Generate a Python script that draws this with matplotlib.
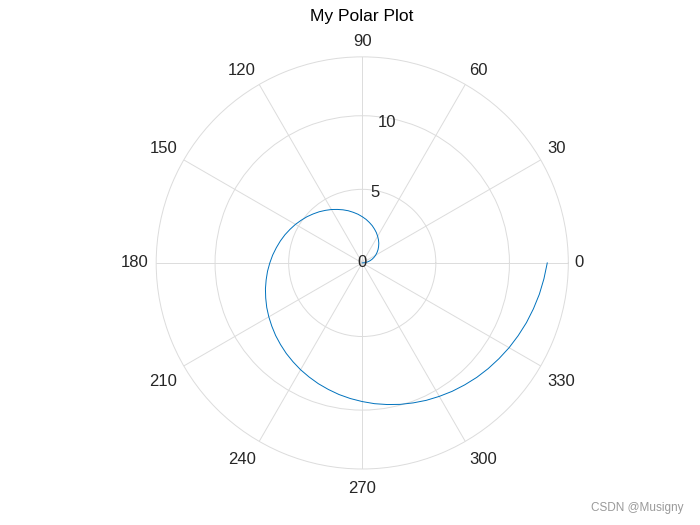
import numpy as np
import matplotlib
matplotlib.use("Agg")
import matplotlib.pyplot as plt

plt.rcParams["font.family"] = ["Liberation Sans", "DejaVu Sans"]

# spiral: angle (deg) and radius
theta_deg = [0, 5, 10, 15, 20, 25, 30, 35, 40, 45, 50, 55, 60, 65, 70, 75, 80, 85, 90,
             95, 100, 105, 110, 115, 120, 125, 130, 135, 140, 145, 150, 155, 160, 165, 170, 175, 180,
             185, 190, 195, 200, 205, 210, 215, 220, 225, 230, 235, 240, 245, 250, 255, 260, 265, 270,
             275, 280, 285, 290, 295, 300, 305, 310, 315, 320, 325, 330, 335, 340, 345, 350, 355, 360]
radius = [0.00, 0.17, 0.35, 0.52, 0.70, 0.87, 1.05, 1.22, 1.40, 1.57, 1.75, 1.92, 2.09, 2.27, 2.44, 2.62, 2.79, 2.97, 3.14,
          3.32, 3.49, 3.67, 3.84, 4.01, 4.19, 4.36, 4.54, 4.71, 4.89, 5.06, 5.24, 5.41, 5.59, 5.76, 5.93, 6.11, 6.28,
          6.46, 6.63, 6.81, 6.98, 7.16, 7.33, 7.50, 7.68, 7.85, 8.03, 8.20, 8.38, 8.55, 8.73, 8.90, 9.08, 9.25, 9.42,
          9.60, 9.77, 9.95, 10.12, 10.30, 10.47, 10.65, 10.82, 11.00, 11.17, 11.34, 11.52, 11.69, 11.87, 12.04, 12.22, 12.39, 12.57]

angle_ticks = [0, 30, 60, 90, 120, 150, 180, 210, 240, 270, 300, 330]
r_ticks = [0, 5, 10]
r_max = 14

LINE = "#0072BD"
GRID = "#dcdcdc"
TXT = "#262626"

fig = plt.figure(figsize=(7, 5.25), dpi=100)
ax = fig.add_axes([0.223, 0.1067, 0.589, 0.785], projection="polar")

ax.plot(np.deg2rad(theta_deg), radius, color=LINE, linewidth=0.7)

ax.set_ylim(0, r_max)
ax.set_yticks(r_ticks)
ax.set_yticklabels([])
for r in r_ticks:
    ax.text(np.deg2rad(80), r * 0.97, str(r), ha="center", va="center",
            fontsize=12, color=TXT)

# angle labels placed like matlab: aligned away from the circle
ax.set_xticks(np.deg2rad(angle_ticks))
ax.set_xticklabels([])
for a in angle_ticks:
    c, s = np.cos(np.deg2rad(a)), np.sin(np.deg2rad(a))
    ha = "left" if c > 0.1 else ("right" if c < -0.1 else "center")
    va = "bottom" if s > 0.1 else ("top" if s < -0.1 else "center")
    dx = -1 if c > 0.9 else 0
    dy = -3 if s < -0.1 else 0
    ax.annotate(str(a), xy=(np.deg2rad(a), r_max + 0.5), xytext=(dx, dy),
                textcoords="offset points", ha=ha, va=va,
                fontsize=12, color=TXT, annotation_clip=False)

ax.grid(True, color=GRID, linewidth=0.7)
ax.spines["polar"].set_edgecolor(GRID)
ax.spines["polar"].set_linewidth(0.7)

fig.text(0.517, 1 - 16 / 525, "My Polar Plot", ha="center", va="center",
         fontsize=12.5, color="black")

fig.text(0.976, 1 - 508 / 525, "CSDN @Musigny", ha="right", va="center",
         fontsize=8.5, color="#9a9a9a")

fig.savefig("out.png", dpi=100, facecolor="white")
